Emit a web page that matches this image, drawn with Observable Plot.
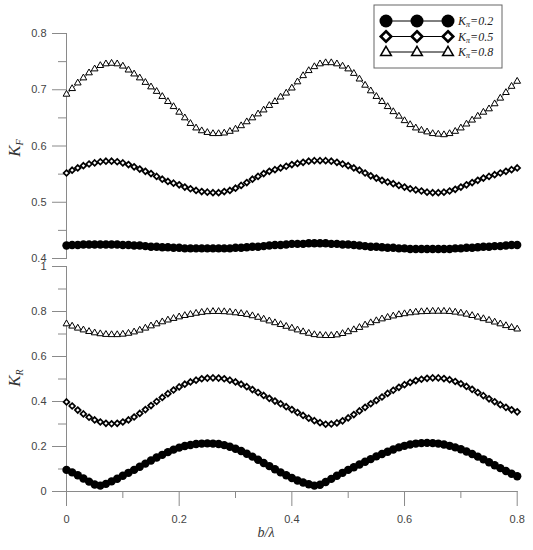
<!DOCTYPE html>
<html><head><meta charset="utf-8">
<script src="https://cdn.jsdelivr.net/npm/d3@7"></script>
<script src="https://cdn.jsdelivr.net/npm/@observablehq/plot@0.6"></script>
<style>
body{margin:0;background:#fff;}
#wrap{position:relative;width:533px;height:550px;overflow:hidden;background:#fff;}
#wrap svg{position:absolute;left:0;}
</style></head><body><div id="wrap"></div>
<script>
// b/λ sample positions
const b = [0,0.01,0.02,0.03,0.04,0.05,0.06,0.07,0.08,0.09,
0.10,0.11,0.12,0.13,0.14,0.15,0.16,0.17,0.18,0.19,
0.20,0.21,0.22,0.23,0.24,0.25,0.26,0.27,0.28,0.29,
0.30,0.31,0.32,0.33,0.34,0.35,0.36,0.37,0.38,0.39,
0.40,0.41,0.42,0.43,0.44,0.45,0.46,0.47,0.48,0.49,
0.50,0.51,0.52,0.53,0.54,0.55,0.56,0.57,0.58,0.59,
0.60,0.61,0.62,0.63,0.64,0.65,0.66,0.67,0.68,0.69,
0.70,0.71,0.72,0.73,0.74,0.75,0.76,0.77,0.78,0.79,0.80];

// K_F series
const KF_02 = [0.423,0.424,0.424,0.425,0.425,0.425,0.425,0.425,0.425,0.425,
0.424,0.424,0.423,0.423,0.422,0.421,0.421,0.420,0.420,0.419,
0.419,0.418,0.418,0.418,0.418,0.418,0.418,0.418,0.418,0.418,
0.419,0.419,0.420,0.421,0.421,0.422,0.423,0.424,0.424,0.425,
0.426,0.426,0.426,0.427,0.427,0.427,0.427,0.426,0.426,0.425,
0.425,0.424,0.423,0.422,0.421,0.421,0.420,0.419,0.419,0.418,
0.418,0.417,0.417,0.417,0.417,0.417,0.417,0.417,0.417,0.418,
0.418,0.419,0.419,0.420,0.421,0.421,0.422,0.422,0.423,0.424,0.424];
const KF_05 = [0.552,0.557,0.561,0.565,0.568,0.570,0.572,0.573,0.573,0.572,
0.570,0.567,0.563,0.559,0.555,0.551,0.546,0.541,0.537,0.534,
0.531,0.527,0.524,0.521,0.519,0.518,0.517,0.517,0.519,0.521,
0.525,0.530,0.535,0.541,0.546,0.551,0.555,0.558,0.561,0.564,
0.567,0.569,0.571,0.573,0.574,0.574,0.574,0.573,0.571,0.568,
0.565,0.561,0.557,0.552,0.547,0.543,0.539,0.536,0.533,0.530,
0.527,0.524,0.522,0.520,0.518,0.517,0.517,0.518,0.520,0.523,
0.527,0.531,0.535,0.539,0.543,0.546,0.549,0.552,0.555,0.558,0.561];
const KF_08 = [0.692,0.702,0.712,0.721,0.730,0.737,0.743,0.746,0.747,0.746,
0.742,0.735,0.728,0.721,0.713,0.705,0.697,0.688,0.679,0.670,
0.660,0.650,0.640,0.632,0.627,0.624,0.622,0.622,0.623,0.626,
0.630,0.636,0.643,0.650,0.657,0.664,0.672,0.679,0.687,0.694,
0.703,0.714,0.725,0.734,0.741,0.746,0.748,0.748,0.746,0.742,
0.737,0.729,0.719,0.708,0.698,0.688,0.679,0.670,0.661,0.653,
0.645,0.638,0.632,0.628,0.625,0.622,0.621,0.620,0.622,0.626,
0.632,0.639,0.646,0.653,0.660,0.666,0.675,0.685,0.695,0.706,0.715];

// K_R series
const KR_02 = [0.096,0.085,0.072,0.058,0.044,0.031,0.026,0.034,0.045,0.057,
0.070,0.083,0.096,0.110,0.124,0.138,0.151,0.163,0.175,0.186,
0.195,0.202,0.207,0.211,0.213,0.214,0.213,0.211,0.206,0.199,
0.190,0.180,0.168,0.155,0.141,0.127,0.113,0.099,0.085,0.072,
0.060,0.049,0.040,0.032,0.026,0.030,0.042,0.056,0.070,0.083,
0.096,0.108,0.120,0.132,0.144,0.156,0.167,0.177,0.187,0.196,
0.203,0.209,0.213,0.215,0.216,0.215,0.213,0.209,0.203,0.196,
0.188,0.178,0.167,0.155,0.143,0.130,0.117,0.104,0.091,0.079,0.068];
const KR_05 = [0.398,0.380,0.362,0.345,0.330,0.318,0.309,0.303,0.301,0.303,
0.309,0.318,0.331,0.347,0.364,0.382,0.400,0.418,0.435,0.451,
0.465,0.477,0.487,0.495,0.501,0.504,0.505,0.504,0.501,0.495,
0.487,0.477,0.466,0.453,0.440,0.427,0.414,0.402,0.390,0.377,
0.364,0.351,0.338,0.326,0.315,0.306,0.299,0.300,0.305,0.314,
0.327,0.342,0.358,0.374,0.390,0.405,0.420,0.436,0.450,0.463,
0.475,0.485,0.493,0.499,0.503,0.505,0.505,0.502,0.497,0.489,
0.479,0.467,0.454,0.440,0.426,0.412,0.399,0.386,0.374,0.363,0.354];
const KR_08 = [0.745,0.735,0.726,0.718,0.711,0.705,0.701,0.698,0.697,0.697,
0.699,0.703,0.709,0.717,0.726,0.736,0.745,0.754,0.762,0.769,
0.776,0.782,0.787,0.792,0.796,0.799,0.800,0.800,0.799,0.797,
0.794,0.791,0.787,0.781,0.774,0.766,0.758,0.750,0.742,0.734,
0.726,0.718,0.710,0.703,0.697,0.694,0.693,0.693,0.696,0.702,
0.710,0.719,0.729,0.740,0.750,0.759,0.767,0.774,0.780,0.786,
0.790,0.794,0.797,0.799,0.800,0.801,0.801,0.801,0.800,0.797,
0.793,0.788,0.782,0.775,0.768,0.761,0.753,0.745,0.737,0.729,0.722];

// axes
const xDomain = [0, 0.8];
const xMajor = [0, 0.2, 0.4, 0.6, 0.8];
const xMinor = [0.1, 0.3, 0.5, 0.7];
const kfDomain = [0.4, 0.8];
const kfMajor = [0.4, 0.5, 0.6, 0.7, 0.8];
const kfMinor = [0.45, 0.55, 0.65, 0.75];
const krDomain = [0, 1];
const krMajor = [0, 0.2, 0.4, 0.6, 0.8, 1];
const krMinor = [0.1, 0.3, 0.5, 0.7, 0.9];
const legendLabels = ["0.2", "0.5", "0.8"];

const axisStroke = "#8a8a8a";
const labelFill = "#444";
const rows = vals => b.map((x, i) => ({x, y: vals[i]}));

function seriesMarks(v02, v05, v08) {
  const d02 = rows(v02), d05 = rows(v05), d08 = rows(v08);
  return [
    Plot.line(d08, {x: "x", y: "y", stroke: "#000", strokeWidth: 0.7}),
    Plot.line(d05, {x: "x", y: "y", stroke: "#000", strokeWidth: 0.7}),
    Plot.line(d02, {x: "x", y: "y", stroke: "#000", strokeWidth: 0.7}),
    Plot.dot(d08, {x: "x", y: "y", symbol: "triangle", r: 2.5, fill: "#fff", stroke: "#000", strokeWidth: 1}),
    Plot.dot(d05, {x: "x", y: "y", symbol: "diamond2", r: 2.6, fill: "#fff", stroke: "#000", strokeWidth: 1.7}),
    Plot.dot(d02, {x: "x", y: "y", symbol: "circle", r: 4.2, fill: "#000", stroke: "none"})
  ];
}

const common = {
  width: 533,
  marginLeft: 66,
  marginRight: 16.3,
  style: {background: "transparent", overflow: "visible", fontFamily: "'Liberation Sans', Arial, sans-serif", fontSize: "11px", color: labelFill}
};

const topPlot = Plot.plot({
  ...common,
  height: 270, marginTop: 33, marginBottom: 12,
  x: {domain: xDomain, axis: null},
  y: {domain: kfDomain, axis: null},
  marks: [
    Plot.axisY(kfMajor, {anchor: "left", label: null, tickSize: 14, tickPadding: 6, stroke: axisStroke, fill: labelFill, tickFormat: d => String(d)}),
    Plot.axisY(kfMinor, {anchor: "left", label: null, tickSize: 8, stroke: axisStroke, tickFormat: () => ""}),
    Plot.frame({anchor: "left", stroke: axisStroke}),
    ...seriesMarks(KF_02, KF_05, KF_08)
  ]
});
topPlot.style.top = "0px";

const bottomPlot = Plot.plot({
  ...common,
  height: 288, marginTop: 4, marginBottom: 59,
  x: {domain: xDomain, axis: null},
  y: {domain: krDomain, axis: null},
  marks: [
    Plot.axisY(krMajor, {anchor: "left", label: null, tickSize: 14, tickPadding: 6, stroke: axisStroke, fill: labelFill, tickFormat: d => String(d)}),
    Plot.axisY(krMinor, {anchor: "left", label: null, tickSize: 8, stroke: axisStroke, tickFormat: () => ""}),
    Plot.axisX(xMajor, {anchor: "bottom", label: null, tickSize: 15, tickPadding: 9, stroke: axisStroke, fill: labelFill, tickFormat: d => String(d)}),
    Plot.axisX(xMinor, {anchor: "bottom", label: null, tickSize: 7, stroke: axisStroke, tickFormat: () => ""}),
    Plot.frame({anchor: "left", stroke: axisStroke}),
    Plot.frame({anchor: "bottom", stroke: axisStroke}),
    ...seriesMarks(KR_02, KR_05, KR_08)
  ]
});
bottomPlot.style.top = "262px";

const wrap = document.getElementById("wrap");
wrap.appendChild(topPlot);
wrap.appendChild(bottomPlot);

// overlay: axis titles and legend
const ov = d3.create("svg").attr("width", 533).attr("height", 550)
  .style("top", "0px").style("pointer-events", "none");
const serif = "'Liberation Serif', 'Times New Roman', serif";

function kTitle(sel, sub) {
  sel.append("tspan").text("K");
  sel.append("tspan").attr("font-size", 10).attr("dy", 3).text(sub);
}
kTitle(ov.append("text").attr("transform", "translate(20,148) rotate(-90)")
  .attr("text-anchor", "middle").attr("font-family", serif).attr("font-style", "italic")
  .attr("font-size", 17).attr("fill", "#333"), "F");
kTitle(ov.append("text").attr("transform", "translate(20,378) rotate(-90)")
  .attr("text-anchor", "middle").attr("font-family", serif).attr("font-style", "italic")
  .attr("font-size", 17).attr("fill", "#333"), "R");
ov.append("text").attr("x", 266).attr("y", 537).attr("text-anchor", "middle")
  .attr("font-family", serif).attr("font-style", "italic").attr("font-size", 14).attr("fill", "#333").text("b/λ");

// legend
const lg = ov.append("g");
lg.append("rect").attr("x", 374).attr("y", 5).attr("width", 128).attr("height", 63)
  .attr("fill", "#fff").attr("stroke", "#666").attr("stroke-width", 1);
const rowY = [21, 36.5, 52];
const mx = [386, 417, 448];
rowY.forEach((y, i) => {
  lg.append("line").attr("x1", mx[0]).attr("x2", mx[2]).attr("y1", y).attr("y2", y).attr("stroke", "#000").attr("stroke-width", 1);
  mx.forEach(x => {
    if (i === 0) lg.append("circle").attr("cx", x).attr("cy", y).attr("r", 6.5).attr("fill", "#000");
    else if (i === 1) lg.append("path").attr("d", d3.symbol(d3.symbolDiamond2, 70)()).attr("transform", `translate(${x},${y})`)
      .attr("fill", "#fff").attr("stroke", "#000").attr("stroke-width", 2.6);
    else lg.append("path").attr("d", d3.symbol(d3.symbolTriangle, 50)()).attr("transform", `translate(${x},${y + 0.5})`)
      .attr("fill", "#fff").attr("stroke", "#000").attr("stroke-width", 1.5);
  });
  const t = lg.append("text").attr("x", 458).attr("y", y + 4).attr("font-family", serif)
    .attr("font-style", "italic").attr("font-size", 12).attr("fill", "#222");
  t.append("tspan").text("K");
  t.append("tspan").attr("font-size", 8).attr("dy", 2).text("π");
  t.append("tspan").attr("dy", -2).text("=" + legendLabels[i]);
});
wrap.appendChild(ov.node());
</script></body></html>
